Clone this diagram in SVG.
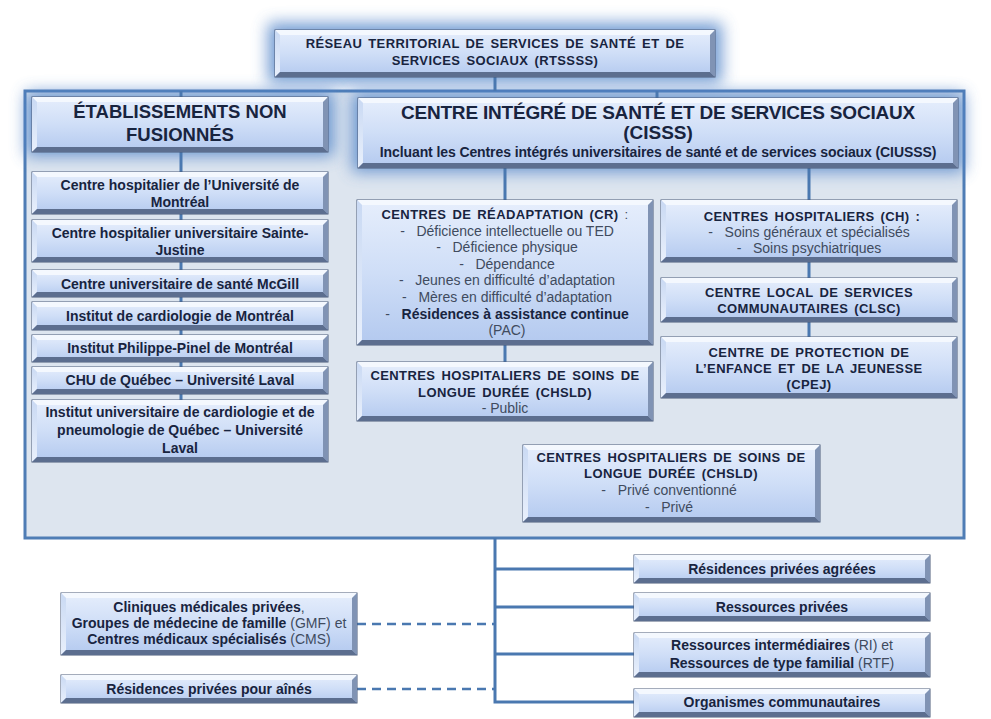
<svg xmlns="http://www.w3.org/2000/svg" width="991" height="719" viewBox="0 0 991 719">
<defs>
<linearGradient id="body" x1="0" y1="0" x2="0" y2="1">
<stop offset="0" stop-color="#e6eefc"/>
<stop offset="0.5" stop-color="#cfdef7"/>
<stop offset="1" stop-color="#b3c9ef"/>
</linearGradient>
<linearGradient id="lbev" x1="0" y1="0" x2="0" y2="1">
<stop offset="0" stop-color="#c9d9f3"/>
<stop offset="1" stop-color="#e9f0fc"/>
</linearGradient>
<filter id="blur" x="-20%" y="-80%" width="140%" height="260%">
<feGaussianBlur stdDeviation="8"/>
</filter>
<style>
.bx{fill:url(#body);stroke:#4b5b78;stroke-width:1}
.bt{fill:#f4f8fe}
.bl{fill:url(#lbev)}
.br{fill:#8093b4}
.bb{fill:#5c6e8f}
.glow{fill:#4f82c8;opacity:0.8;filter:url(#blur)}
text{font-family:"Liberation Sans",Arial,sans-serif;text-anchor:middle;font-weight:bold;fill:#18243f;font-size:14px}
.cap{font-size:13px;letter-spacing:0.4px;word-spacing:2px}
.r{font-weight:normal;fill:#404b5e}
</style>
</defs>
<rect width="991" height="719" fill="#ffffff"/>
<rect id="container" x="25" y="91" width="939" height="447" fill="#dde5ef" stroke="#4f7db5" stroke-width="3"/>
<g id="glows">
<rect class="glow" x="268" y="23" width="454" height="60"/>
<rect class="glow" x="26" y="92" width="308" height="64"/>
<rect class="glow" x="352" y="93" width="612" height="79"/>
</g>
<g id="connectors" fill="none" stroke="#4a78b0" stroke-width="3">
<path d="M495 77V91"/>
<path d="M181 91V97"/>
<path d="M657 91V98"/>
<path d="M181 152V400"/>
<path d="M505 168V200M505 345V362"/>
<path d="M809 168V200M809 262V278M809 322V337"/>
<path d="M495 538V702H634M495 569H634M495 607H634M495 654H634"/>
<path d="M357 624H495M357 689H495" stroke-dasharray="9 6" stroke-width="2.5"/>
</g>
<g id="rtssss">
<rect class="bx" x="275" y="30" width="440" height="47"/>
<path class="bt" d="M275 30H715L710 35H280Z"/><path class="bl" d="M275 30L280 35V72L275 77Z"/><path class="br" d="M715 30V77L710 72V35Z"/><path class="bb" d="M275 77H715L710 72H280Z"/>
<text class="cap" x="495" y="48">RÉSEAU TERRITORIAL DE SERVICES DE SANTÉ ET DE</text>
<text class="cap" x="495" y="65">SERVICES SOCIAUX (RTSSSS)</text>
</g>
<g id="etab">
<rect class="bx" x="32" y="97" width="296" height="55"/>
<path class="bt" d="M32 97H328L323 102H37Z"/><path class="bl" d="M32 97L37 102V147L32 152Z"/><path class="br" d="M328 97V152L323 147V102Z"/><path class="bb" d="M32 152H328L323 147H37Z"/>
<text x="180" y="118" style="font-size:18.5px">ÉTABLISSEMENTS NON</text>
<text x="180" y="141" style="font-size:18.5px">FUSIONNÉS</text>
</g>
<g id="cisss">
<rect class="bx" x="358" y="98" width="600" height="70"/>
<path class="bt" d="M358 98H958L953 103H363Z"/><path class="bl" d="M358 98L363 103V163L358 168Z"/><path class="br" d="M958 98V168L953 163V103Z"/><path class="bb" d="M358 168H958L953 163H363Z"/>
<text x="658" y="119" style="font-size:19px;letter-spacing:-0.2px">CENTRE INTÉGRÉ DE SANTÉ ET DE SERVICES SOCIAUX</text>
<text x="658" y="139" style="font-size:19px">(CISSS)</text>
<text x="658" y="157" style="letter-spacing:-0.1px">Incluant les Centres intégrés universitaires de santé et de services sociaux (CIUSSS)</text>
</g>
<g id="l1">
<rect class="bx" x="32" y="172" width="296" height="42"/>
<path class="bt" d="M32 172H328L323 177H37Z"/><path class="bl" d="M32 172L37 177V209L32 214Z"/><path class="br" d="M328 172V214L323 209V177Z"/><path class="bb" d="M32 214H328L323 209H37Z"/>
<text x="180" y="190">Centre hospitalier de l’Université de</text>
<text x="180" y="207">Montréal</text>
</g>
<g id="l2">
<rect class="bx" x="32" y="220" width="296" height="42"/>
<path class="bt" d="M32 220H328L323 225H37Z"/><path class="bl" d="M32 220L37 225V257L32 262Z"/><path class="br" d="M328 220V262L323 257V225Z"/><path class="bb" d="M32 262H328L323 257H37Z"/>
<text x="180" y="238">Centre hospitalier universitaire Sainte-</text>
<text x="180" y="255">Justine</text>
</g>
<g id="l3">
<rect class="bx" x="32" y="270" width="296" height="27"/>
<path class="bt" d="M32 270H328L323 275H37Z"/><path class="bl" d="M32 270L37 275V292L32 297Z"/><path class="br" d="M328 270V297L323 292V275Z"/><path class="bb" d="M32 297H328L323 292H37Z"/>
<text x="180" y="289">Centre universitaire de santé McGill</text>
</g>
<g id="l4">
<rect class="bx" x="32" y="302" width="296" height="28"/>
<path class="bt" d="M32 302H328L323 307H37Z"/><path class="bl" d="M32 302L37 307V325L32 330Z"/><path class="br" d="M328 302V330L323 325V307Z"/><path class="bb" d="M32 330H328L323 325H37Z"/>
<text x="180" y="321">Institut de cardiologie de Montréal</text>
</g>
<g id="l5">
<rect class="bx" x="32" y="335" width="296" height="27"/>
<path class="bt" d="M32 335H328L323 340H37Z"/><path class="bl" d="M32 335L37 340V357L32 362Z"/><path class="br" d="M328 335V362L323 357V340Z"/><path class="bb" d="M32 362H328L323 357H37Z"/>
<text x="180" y="353">Institut Philippe-Pinel de Montréal</text>
</g>
<g id="l6">
<rect class="bx" x="32" y="367" width="296" height="27"/>
<path class="bt" d="M32 367H328L323 372H37Z"/><path class="bl" d="M32 367L37 372V389L32 394Z"/><path class="br" d="M328 367V394L323 389V372Z"/><path class="bb" d="M32 394H328L323 389H37Z"/>
<text x="180" y="385">CHU de Québec – Université Laval</text>
</g>
<g id="l7">
<rect class="bx" x="32" y="400" width="296" height="62"/>
<path class="bt" d="M32 400H328L323 405H37Z"/><path class="bl" d="M32 400L37 405V457L32 462Z"/><path class="br" d="M328 400V462L323 457V405Z"/><path class="bb" d="M32 462H328L323 457H37Z"/>
<text x="180" y="417">Institut universitaire de cardiologie et de</text>
<text x="180" y="435">pneumologie de Québec – Université</text>
<text x="180" y="453">Laval</text>
</g>
<g id="cr">
<rect class="bx" x="357" y="200" width="296" height="145"/>
<path class="bt" d="M357 200H653L648 205H362Z"/><path class="bl" d="M357 200L362 205V340L357 345Z"/><path class="br" d="M653 200V345L648 340V205Z"/><path class="bb" d="M357 345H653L648 340H362Z"/>
<text class="cap" x="505" y="219">CENTRES DE RÉADAPTATION (CR)<tspan class="r"> :</tspan></text>
<text class="r" x="507" y="235.5">-&#160;&#160;&#160;Déficience intellectuelle ou TED</text>
<text class="r" x="507" y="252">-&#160;&#160;&#160;Déficience physique</text>
<text class="r" x="507" y="268.5">-&#160;&#160;&#160;Dépendance</text>
<text class="r" x="507" y="285">-&#160;&#160;&#160;Jeunes en difficulté d’adaptation</text>
<text class="r" x="507" y="302">-&#160;&#160;&#160;Mères en difficulté d’adaptation</text>
<text x="507" y="318.5"><tspan class="r">-&#160;&#160;&#160;</tspan>Résidences à assistance continue</text>
<text class="r" x="507" y="335">(PAC)</text>
</g>
<g id="chsld-public">
<rect class="bx" x="357" y="362" width="296" height="59"/>
<path class="bt" d="M357 362H653L648 367H362Z"/><path class="bl" d="M357 362L362 367V416L357 421Z"/><path class="br" d="M653 362V421L648 416V367Z"/><path class="bb" d="M357 421H653L648 416H362Z"/>
<text class="cap" x="505" y="380">CENTRES HOSPITALIERS DE SOINS DE</text>
<text class="cap" x="505" y="397">LONGUE DURÉE (CHSLD)</text>
<text class="r" x="505" y="413">- Public</text>
</g>
<g id="ch">
<rect class="bx" x="661" y="200" width="296" height="62"/>
<path class="bt" d="M661 200H957L952 205H666Z"/><path class="bl" d="M661 200L666 205V257L661 262Z"/><path class="br" d="M957 200V262L952 257V205Z"/><path class="bb" d="M661 262H957L952 257H666Z"/>
<text class="cap" x="812" y="221">CENTRES HOSPITALIERS (CH) :</text>
<text class="r" x="809" y="237">-&#160;&#160;&#160;Soins généraux et spécialisés</text>
<text class="r" x="809" y="253">-&#160;&#160;&#160;Soins psychiatriques</text>
</g>
<g id="clsc">
<rect class="bx" x="661" y="278" width="296" height="44"/>
<path class="bt" d="M661 278H957L952 283H666Z"/><path class="bl" d="M661 278L666 283V317L661 322Z"/><path class="br" d="M957 278V322L952 317V283Z"/><path class="bb" d="M661 322H957L952 317H666Z"/>
<text class="cap" x="809" y="297">CENTRE LOCAL DE SERVICES</text>
<text class="cap" x="809" y="313">COMMUNAUTAIRES (CLSC)</text>
</g>
<g id="cpej">
<rect class="bx" x="661" y="337" width="296" height="61"/>
<path class="bt" d="M661 337H957L952 342H666Z"/><path class="bl" d="M661 337L666 342V393L661 398Z"/><path class="br" d="M957 337V398L952 393V342Z"/><path class="bb" d="M661 398H957L952 393H666Z"/>
<text class="cap" x="809" y="357">CENTRE DE PROTECTION DE</text>
<text class="cap" x="809" y="373">L’ENFANCE ET DE LA JEUNESSE</text>
<text class="cap" x="809" y="389">(CPEJ)</text>
</g>
<g id="chsld-prive">
<rect class="bx" x="523" y="445" width="297" height="77"/>
<path class="bt" d="M523 445H820L815 450H528Z"/><path class="bl" d="M523 445L528 450V517L523 522Z"/><path class="br" d="M820 445V522L815 517V450Z"/><path class="bb" d="M523 522H820L815 517H528Z"/>
<text class="cap" x="671" y="462">CENTRES HOSPITALIERS DE SOINS DE</text>
<text class="cap" x="671" y="478">LONGUE DURÉE (CHSLD)</text>
<text class="r" x="669" y="495">-&#160;&#160;&#160;Privé conventionné</text>
<text class="r" x="669" y="512">-&#160;&#160;&#160;Privé</text>
</g>
<g id="cliniques">
<rect class="bx" x="61" y="593" width="296" height="62"/>
<path class="bt" d="M61 593H357L352 598H66Z"/><path class="bl" d="M61 593L66 598V650L61 655Z"/><path class="br" d="M357 593V655L352 650V598Z"/><path class="bb" d="M61 655H357L352 650H66Z"/>
<text x="209" y="612">Cliniques médicales privées<tspan class="r">,</tspan></text>
<text x="209" y="628">Groupes de médecine de famille<tspan class="r"> (GMF) et</tspan></text>
<text x="209" y="644">Centres médicaux spécialisés<tspan class="r"> (CMS)</tspan></text>
</g>
<g id="rpa">
<rect class="bx" x="61" y="675" width="296" height="28"/>
<path class="bt" d="M61 675H357L352 680H66Z"/><path class="bl" d="M61 675L66 680V698L61 703Z"/><path class="br" d="M357 675V703L352 698V680Z"/><path class="bb" d="M61 703H357L352 698H66Z"/>
<text x="209" y="693.5">Résidences privées pour aînés</text>
</g>
<g id="r1">
<rect class="bx" x="634" y="555" width="296" height="28"/>
<path class="bt" d="M634 555H930L925 560H639Z"/><path class="bl" d="M634 555L639 560V578L634 583Z"/><path class="br" d="M930 555V583L925 578V560Z"/><path class="bb" d="M634 583H930L925 578H639Z"/>
<text x="782" y="573.5">Résidences privées agréées</text>
</g>
<g id="r2">
<rect class="bx" x="634" y="593" width="296" height="28"/>
<path class="bt" d="M634 593H930L925 598H639Z"/><path class="bl" d="M634 593L639 598V616L634 621Z"/><path class="br" d="M930 593V621L925 616V598Z"/><path class="bb" d="M634 621H930L925 616H639Z"/>
<text x="782" y="611.5">Ressources privées</text>
</g>
<g id="r3">
<rect class="bx" x="634" y="633" width="296" height="44"/>
<path class="bt" d="M634 633H930L925 638H639Z"/><path class="bl" d="M634 633L639 638V672L634 677Z"/><path class="br" d="M930 633V677L925 672V638Z"/><path class="bb" d="M634 677H930L925 672H639Z"/>
<text x="782" y="650">Ressources intermédiaires<tspan class="r"> (RI) et</tspan></text>
<text x="782" y="668">Ressources de type familial<tspan class="r"> (RTF)</tspan></text>
</g>
<g id="r4">
<rect class="bx" x="634" y="689" width="296" height="28"/>
<path class="bt" d="M634 689H930L925 694H639Z"/><path class="bl" d="M634 689L639 694V712L634 717Z"/><path class="br" d="M930 689V717L925 712V694Z"/><path class="bb" d="M634 717H930L925 712H639Z"/>
<text x="782" y="707">Organismes communautaires</text>
</g>
</svg>
